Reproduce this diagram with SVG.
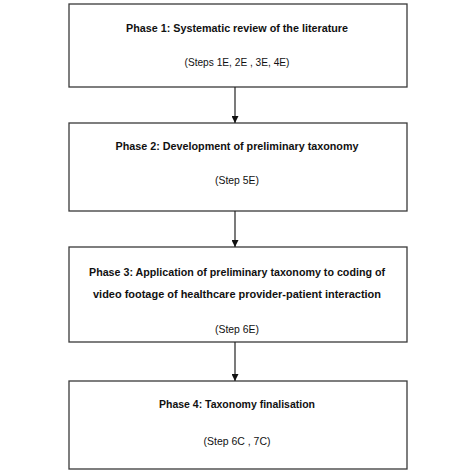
<svg xmlns="http://www.w3.org/2000/svg" width="474" height="474" viewBox="0 0 474 474">
<style>
.box{fill:#fff;stroke:#3a3a3a;stroke-width:1.3}
.t{font-family:"Liberation Sans",Arial,sans-serif;font-size:11px;font-weight:bold;fill:#111;text-anchor:middle}
.s{font-family:"Liberation Sans",Arial,sans-serif;font-size:11px;fill:#111;text-anchor:middle}
.c{stroke:#222;stroke-width:1.2;fill:none}
</style>
<defs>
<marker id="ah" viewBox="0 0 10 10" refX="10" refY="5" markerWidth="7" markerHeight="7" markerUnits="userSpaceOnUse" orient="auto">
<path d="M0,0 L10,5 L0,10 z" fill="#111"/>
</marker>
</defs>
<rect width="474" height="474" fill="#fff"/>
<g id="phase1">
<rect class="box" x="69" y="4" width="338" height="83"/>
<text class="t" x="237" y="32" textLength="222" lengthAdjust="spacingAndGlyphs">Phase 1: Systematic review of the literature</text>
<text class="s" x="237" y="66" textLength="105" lengthAdjust="spacingAndGlyphs">(Steps 1E, 2E , 3E, 4E)</text>
</g>
<g id="phase2">
<rect class="box" x="69" y="123" width="338" height="88"/>
<text class="t" x="237" y="150" textLength="243" lengthAdjust="spacingAndGlyphs">Phase 2: Development of preliminary taxonomy</text>
<text class="s" x="237" y="184" textLength="44" lengthAdjust="spacingAndGlyphs">(Step 5E)</text>
</g>
<g id="phase3">
<rect class="box" x="69" y="247" width="338" height="95"/>
<text class="t" x="237" y="276" textLength="296" lengthAdjust="spacingAndGlyphs">Phase 3: Application of preliminary taxonomy to coding of</text>
<text class="t" x="237" y="298" textLength="288" lengthAdjust="spacingAndGlyphs">video footage of healthcare provider-patient interaction</text>
<text class="s" x="237" y="333" textLength="44" lengthAdjust="spacingAndGlyphs">(Step 6E)</text>
</g>
<g id="phase4">
<rect class="box" x="69" y="381" width="338" height="88"/>
<text class="t" x="237" y="408" textLength="156" lengthAdjust="spacingAndGlyphs">Phase 4: Taxonomy finalisation</text>
<text class="s" x="237" y="445" textLength="67" lengthAdjust="spacingAndGlyphs">(Step 6C , 7C)</text>
</g>
<g id="connectors">
<line class="c" x1="235" y1="87" x2="235" y2="123" marker-end="url(#ah)"/>
<line class="c" x1="235" y1="211" x2="235" y2="247" marker-end="url(#ah)"/>
<line class="c" x1="235" y1="342" x2="235" y2="381" marker-end="url(#ah)"/>
</g>
</svg>
